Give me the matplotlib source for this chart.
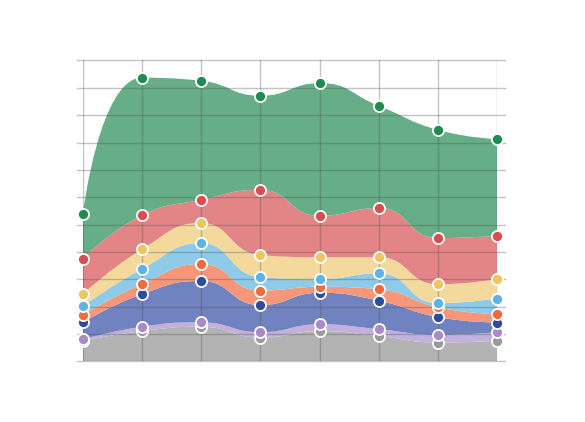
import numpy as np
import matplotlib
matplotlib.use("Agg")
import matplotlib.pyplot as plt
from matplotlib.path import Path
from matplotlib.patches import PathPatch

# Podaci (redosled slaganja: odozdo nagore)
categories = ["1", "2", "3", "4", "5", "6", "7", "8"]
gray = [7.5, 11.1, 12.7, 8.7, 11.1, 9.3, 6.9, 7.6]
purple = [0.6, 1.6, 1.6, 2.0, 2.5, 2.5, 2.8, 3.1]
dark_blue = [6.2, 11.9, 15.1, 9.9, 11.5, 10.4, 6.5, 3.5]
orange = [2.7, 3.7, 6.2, 5.3, 2.2, 4.2, 3.6, 3.0]
light_blue = [3.2, 5.5, 7.6, 4.9, 2.8, 5.8, 1.5, 5.8]
yellow = [4.4, 7.2, 7.4, 8.1, 8.0, 5.9, 6.9, 7.1]
red = [13.0, 12.4, 8.5, 23.8, 15.1, 18.0, 16.9, 15.8]
green = [16.2, 50.3, 43.5, 34.4, 48.5, 37.3, 39.5, 35.3]

series = [gray, purple, dark_blue, orange, light_blue, yellow, red, green]
area_colors = ["#b3b3b3", "#c3b1dc", "#7083c0", "#f6977a", "#8dcbe9",
               "#f3d99b", "#e38486", "#66ae87"]
marker_colors = ["#9a9a9a", "#a88bc8", "#2f4b9c", "#f26a3e", "#5cb3e4",
                 "#f0c55f", "#d94c4f", "#1f8c4f"]

SX, SY = 59.3, 2.736  # px po jedinici (za duzine segmenata)


def clamp(v, a, b):
    return min(max(v, min(a, b)), max(a, b))


def control_points(xs, ys, smooth=0.5):
    # glatka linija sa ogranicenim kontrolnim tackama (bez prebacaja)
    n = len(xs)
    p = np.column_stack([xs, ys]).astype(float)
    cin = [p[i].copy() for i in range(n)]
    cout = [p[i].copy() for i in range(n)]
    for i in range(1, n - 1):
        prv, cur, nxt = p[i - 1], p[i], p[i + 1]
        d0 = np.hypot((cur[0] - prv[0]) * SX, (cur[1] - prv[1]) * SY)
        d1 = np.hypot((nxt[0] - cur[0]) * SX, (nxt[1] - cur[1]) * SY)
        if d0 == 0 or d1 == 0:
            continue
        v = nxt - prv
        r = d1 / (d0 + d1)
        co = cur + v * smooth * r
        co = np.array([clamp(co[0], cur[0], nxt[0]), clamp(co[1], cur[1], nxt[1])])
        ci = cur - (co - cur) * d0 / d1
        ci = np.array([clamp(ci[0], prv[0], cur[0]), clamp(ci[1], prv[1], cur[1])])
        co = cur + (cur - ci) * d1 / d0
        cin[i], cout[i] = ci, co
    return p, cin, cout


def bezier_verts(xs, ys):
    p, cin, cout = control_points(xs, ys)
    verts = [tuple(p[0])]
    for i in range(len(xs) - 1):
        verts += [tuple(cout[i]), tuple(cin[i + 1]), tuple(p[i + 1])]
    return verts


x = np.arange(len(categories))
fig = plt.figure(figsize=(5.85, 4.22), dpi=100)
ax = fig.add_axes([0.1414, 0.1434, 0.7088, 0.7133])

cum = np.cumsum(np.array(series), axis=0)
lower = np.zeros(len(x))
for k in range(len(series)):
    upper = cum[k]
    top = bezier_verts(x, upper)
    bot = bezier_verts(x[::-1], lower[::-1])
    verts = top + bot + [top[0]]
    codes = [Path.MOVETO] + [Path.CURVE4] * (len(top) - 1)
    codes += [Path.LINETO] + [Path.CURVE4] * (len(bot) - 1) + [Path.CLOSEPOLY]
    ax.add_patch(PathPatch(Path(verts, codes), facecolor=area_colors[k],
                           edgecolor="none", zorder=1))
    lower = upper

ax.set_xlim(0, len(x) - 1)
ax.set_ylim(0, 110)

# Mreza preko povrsina
for yv in np.arange(0, 111, 10):
    ax.plot([-0.1, len(x) - 1 + 0.135], [yv, yv], color="#555555", alpha=0.35,
            lw=1, zorder=2, clip_on=False)
for xv in x:
    ax.plot([xv, xv], [0, 110], color="#555555", alpha=0.35, lw=1, zorder=2)

for k in range(len(series)):
    ax.plot(x, cum[k], linestyle="none", marker="o", markersize=8,
            markerfacecolor=marker_colors[k], markeredgecolor="white",
            markeredgewidth=1.3, zorder=3, clip_on=False)

for s in ax.spines.values():
    s.set_visible(False)
ax.set_xticks([])
ax.set_yticks([])

plt.savefig("out.png", dpi=100)
